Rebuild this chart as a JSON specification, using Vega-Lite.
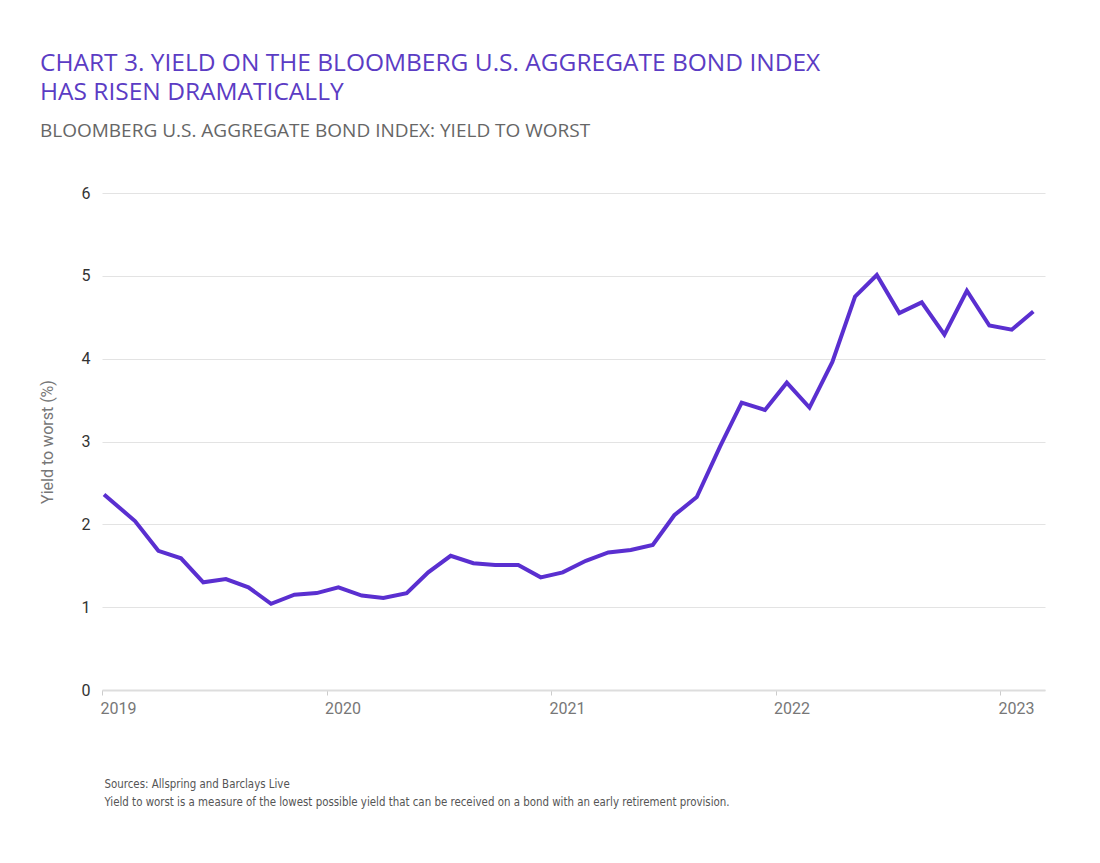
{
  "$schema": "https://vega.github.io/schema/vega-lite/v6.json",
  "width": 943,
  "height": 497,
  "autosize": {"type": "none"},
  "padding": {"left": 102, "top": 193, "right": 55, "bottom": 173},
  "background": "white",
  "title": {
    "text": ["CHART 3. YIELD ON THE BLOOMBERG U.S. AGGREGATE BOND INDEX", "HAS RISEN DRAMATICALLY"],
    "subtitle": "BLOOMBERG U.S. AGGREGATE BOND INDEX: YIELD TO WORST",
    "anchor": "start",
    "frame": "group",
    "dx": -62,
    "offset": 43,
    "font": "Open Sans",
    "fontSize": 24.5,
    "fontWeight": "normal",
    "lineHeight": 29,
    "color": "#5b3cc4",
    "subtitleFont": "Open Sans",
    "subtitleFontSize": 19,
    "subtitleColor": "#666666",
    "subtitlePadding": 17
  },
  "data": {
    "values": [
      {"t": 2019.009, "ytw": 2.36},
      {"t": 2019.147, "ytw": 2.04},
      {"t": 2019.251, "ytw": 1.68},
      {"t": 2019.352, "ytw": 1.59},
      {"t": 2019.451, "ytw": 1.30},
      {"t": 2019.552, "ytw": 1.34},
      {"t": 2019.652, "ytw": 1.24},
      {"t": 2019.753, "ytw": 1.04},
      {"t": 2019.857, "ytw": 1.15},
      {"t": 2019.956, "ytw": 1.17},
      {"t": 2020.053, "ytw": 1.24},
      {"t": 2020.157, "ytw": 1.14},
      {"t": 2020.253, "ytw": 1.11},
      {"t": 2020.357, "ytw": 1.17},
      {"t": 2020.453, "ytw": 1.42},
      {"t": 2020.553, "ytw": 1.62},
      {"t": 2020.654, "ytw": 1.53},
      {"t": 2020.751, "ytw": 1.51},
      {"t": 2020.854, "ytw": 1.51},
      {"t": 2020.954, "ytw": 1.36},
      {"t": 2021.052, "ytw": 1.42},
      {"t": 2021.155, "ytw": 1.56},
      {"t": 2021.255, "ytw": 1.66},
      {"t": 2021.355, "ytw": 1.69},
      {"t": 2021.453, "ytw": 1.75},
      {"t": 2021.549, "ytw": 2.11},
      {"t": 2021.649, "ytw": 2.33},
      {"t": 2021.753, "ytw": 2.94},
      {"t": 2021.849, "ytw": 3.47},
      {"t": 2021.953, "ytw": 3.38},
      {"t": 2022.050, "ytw": 3.71},
      {"t": 2022.151, "ytw": 3.41},
      {"t": 2022.253, "ytw": 3.96},
      {"t": 2022.354, "ytw": 4.75},
      {"t": 2022.451, "ytw": 5.01},
      {"t": 2022.551, "ytw": 4.55},
      {"t": 2022.651, "ytw": 4.68},
      {"t": 2022.752, "ytw": 4.29},
      {"t": 2022.852, "ytw": 4.82},
      {"t": 2022.952, "ytw": 4.40},
      {"t": 2023.052, "ytw": 4.35},
      {"t": 2023.148, "ytw": 4.57}
    ]
  },
  "mark": {"type": "line", "color": "#5a2fd0", "strokeWidth": 4, "strokeJoin": "miter"},
  "encoding": {
    "x": {
      "field": "t",
      "type": "quantitative",
      "scale": {"domain": [2019, 2023.2], "nice": false, "zero": false},
      "axis": {
        "values": [2019, 2020, 2021, 2022, 2023],
        "format": "d",
        "grid": false,
        "domain": true,
        "domainColor": "#dddddd",
        "domainWidth": 2,
        "ticks": true,
        "tickColor": "#cccccc",
        "tickSize": 5,
        "labelAlign": "left",
        "labelOffset": -2,
        "labelPadding": 5,
        "labelFont": "Roboto",
        "labelFontSize": 16,
        "labelColor": "#777777",
        "title": ["Sources: Allspring and Barclays Live", "Yield to worst is a measure of the lowest possible yield that can be received on a bond with an early retirement provision."],
        "titleFont": "Liberation Sans Narrow, DejaVu Sans Condensed, Roboto",
        "titleFontSize": 11.4,
        "titleFontWeight": "normal",
        "titleColor": "#555555",
        "titleAnchor": "start",
        "titleAlign": "left",
        "titleBaseline": "top",
        "titleLineHeight": 18,
        "titleX": 2,
        "titleY": 88
      }
    },
    "y": {
      "field": "ytw",
      "type": "quantitative",
      "scale": {"domain": [0, 6], "nice": false},
      "axis": {
        "values": [0, 1, 2, 3, 4, 5, 6],
        "grid": true,
        "gridColor": "#e3e3e3",
        "gridWidth": 1,
        "domain": false,
        "ticks": false,
        "labelPadding": 12,
        "labelFont": "Roboto",
        "labelFontSize": 16,
        "labelColor": "#333333",
        "title": "Yield to worst (%)",
        "titleFont": "Roboto",
        "titleFontSize": 16,
        "titleFontWeight": "normal",
        "titleColor": "#777777",
        "titlePadding": 26
      }
    }
  },
  "config": {"view": {"stroke": null}}
}
